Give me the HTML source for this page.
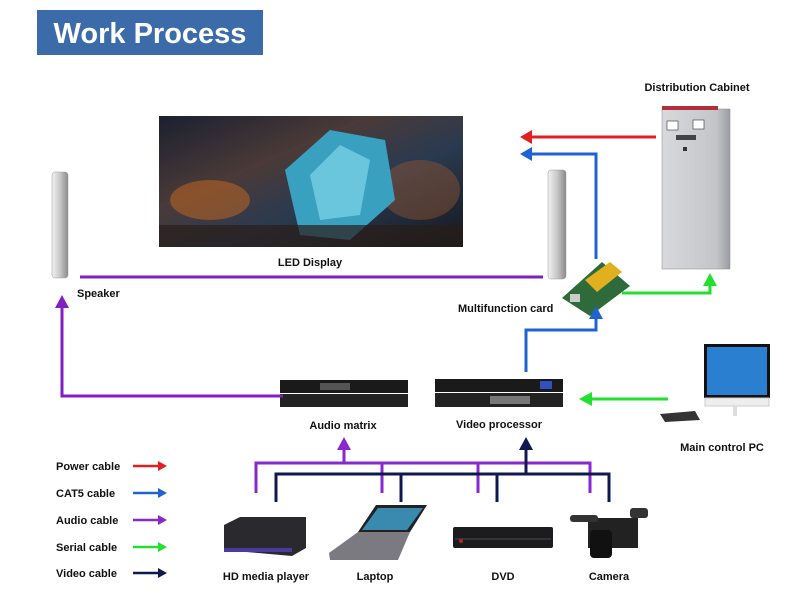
<!DOCTYPE html>
<html><head><meta charset="utf-8"><style>
html,body{margin:0;padding:0;background:#fff;}
svg text{font-family:"Liberation Sans",sans-serif;font-weight:bold;fill:#111;}
</style></head><body>
<svg width="790" height="599" viewBox="0 0 790 599" xmlns="http://www.w3.org/2000/svg">
<defs>
<linearGradient id="led" x1="0" y1="0" x2="1" y2="1">
<stop offset="0" stop-color="#1b2030"/><stop offset="0.35" stop-color="#4a3a38"/><stop offset="0.6" stop-color="#2a3a50"/><stop offset="1" stop-color="#151820"/></linearGradient>
<linearGradient id="spk" x1="0" x2="1"><stop offset="0" stop-color="#f2f2f2"/><stop offset="0.5" stop-color="#c8c8c8"/><stop offset="1" stop-color="#8a8a8a"/></linearGradient>
<linearGradient id="cab" x1="0" x2="1"><stop offset="0" stop-color="#d8d9dc"/><stop offset="0.8" stop-color="#c4c5c9"/><stop offset="1" stop-color="#9a9ca2"/></linearGradient>
</defs>
<rect x="37" y="10" width="226" height="45" fill="#3b6ba9"/>
<text x="150" y="43" text-anchor="middle" font-size="29" style="fill:#fff">Work Process</text>

<rect x="159" y="116" width="304" height="131" fill="url(#led)"/>
<ellipse cx="210" cy="200" rx="40" ry="20" fill="#c86a20" opacity="0.5"/>
<ellipse cx="420" cy="190" rx="40" ry="30" fill="#a05a30" opacity="0.4"/>
<polygon points="285,170 330,130 385,140 395,200 350,240 300,235" fill="#3aa0c0"/>
<polygon points="310,175 340,145 370,160 360,215 320,220" fill="#7fd6e8" opacity="0.7"/>
<rect x="159" y="225" width="304" height="22" fill="#2a1d18" opacity="0.7"/>
<text x="310" y="266" text-anchor="middle" font-size="11">LED Display</text>

<rect x="52" y="172" width="16" height="106" rx="3" fill="url(#spk)" stroke="#999" stroke-width="0.5"/>
<text x="77" y="297" font-size="11">Speaker</text>
<rect x="548" y="170" width="18" height="109" rx="3" fill="url(#spk)" stroke="#999" stroke-width="0.5"/>

<text x="697" y="91" text-anchor="middle" font-size="11">Distribution Cabinet</text>
<rect x="662" y="109" width="68" height="160" fill="url(#cab)" stroke="#888" stroke-width="0.5"/>
<rect x="662" y="106" width="56" height="4" fill="#b0303a"/>
<rect x="667" y="121" width="11" height="9" fill="#fff" stroke="#333" stroke-width="0.6"/>
<rect x="693" y="120" width="11" height="9" fill="#fff" stroke="#333" stroke-width="0.6"/>
<rect x="676" y="135" width="20" height="5" fill="#444"/>
<rect x="683" y="147" width="4" height="4" fill="#333"/>

<polygon points="562,298 602,262 630,286 590,316" fill="#2f6a3a"/>
<polygon points="585,280 610,262 622,272 597,292" fill="#e0b020"/>
<rect x="570" y="294" width="10" height="8" fill="#ccc"/>
<text x="458" y="312" font-size="11">Multifunction card</text>

<rect x="280" y="380" width="128" height="13" fill="#1a1a1a"/>
<rect x="280" y="394" width="128" height="13" fill="#222"/>
<rect x="320" y="383" width="30" height="7" fill="#555"/>
<text x="343" y="429" text-anchor="middle" font-size="11">Audio matrix</text>
<rect x="435" y="379" width="128" height="13" fill="#1a1a1a"/>
<rect x="435" y="393" width="128" height="14" fill="#222"/>
<rect x="540" y="381" width="12" height="8" fill="#3050c0"/>
<rect x="490" y="396" width="40" height="8" fill="#777"/>
<text x="499" y="428" text-anchor="middle" font-size="11">Video processor</text>

<rect x="704" y="344" width="66" height="54" fill="#111"/>
<rect x="707" y="347" width="60" height="48" fill="#2a7fd0"/>
<rect x="705" y="398" width="64" height="8" fill="#eee" stroke="#ccc"/>
<rect x="733" y="406" width="4" height="10" fill="#ddd"/>
<polygon points="660,414 695,411 700,420 665,422" fill="#333"/>
<text x="722" y="451" text-anchor="middle" font-size="11">Main control PC</text>

<g fill="none" stroke-width="3">
<path d="M656,137 H530" stroke="#e02020"/>
<path d="M596,259 V154 H530" stroke="#1e64d0"/>
<path d="M622,293 H710 V285" stroke="#22e030"/>
<path d="M526,372 V330 H596 V318" stroke="#1e64d0"/>
<path d="M80,277 H543" stroke="#8020c0"/>
<path d="M283,396 H62 V306" stroke="#8020c0"/>
<path d="M668,399 H590" stroke="#22e030"/>
<path d="M256,493 V463 H590 V493 M382,463 V493 M478,463 V493 M344,463 V448" stroke="#8a28d0"/>
<path d="M276,502 V474 H609 V502 M401,474 V502 M497,474 V502 M526,474 V448" stroke="#101850"/>
</g>
<polygon points="520,137 532,130 532,144" fill="#e02020"/>
<polygon points="520,154 532,147 532,161" fill="#1e64d0"/>
<polygon points="710,273 703,286 717,286" fill="#22e030"/>
<polygon points="596,306 589,319 603,319" fill="#1e64d0"/>
<polygon points="62,295 55,308 69,308" fill="#8020c0"/>
<polygon points="579,399 592,392 592,406" fill="#22e030"/>
<polygon points="344,437 337,450 351,450" fill="#8a28d0"/>
<polygon points="526,437 519,450 533,450" fill="#101850"/>

<g font-size="11">
<text x="56" y="470">Power cable</text>
<text x="56" y="497">CAT5 cable</text>
<text x="56" y="524">Audio cable</text>
<text x="56" y="551">Serial cable</text>
<text x="56" y="577">Video cable</text>
</g>
<g stroke-width="2.5">
<line x1="133" y1="466" x2="160" y2="466" stroke="#e02020"/>
<line x1="133" y1="493" x2="160" y2="493" stroke="#1e64d0"/>
<line x1="133" y1="520" x2="160" y2="520" stroke="#8a28d0"/>
<line x1="133" y1="547" x2="160" y2="547" stroke="#22e030"/>
<line x1="133" y1="573" x2="160" y2="573" stroke="#101850"/>
</g>
<polygon points="167,466 158,461 158,471" fill="#e02020"/>
<polygon points="167,493 158,488 158,498" fill="#1e64d0"/>
<polygon points="167,520 158,515 158,525" fill="#8a28d0"/>
<polygon points="167,547 158,542 158,552" fill="#22e030"/>
<polygon points="167,573 158,568 158,578" fill="#101850"/>

<polygon points="224,525 240,517 306,517 306,548 292,556 224,550" fill="#2a2a2e"/>
<rect x="224" y="548" width="68" height="4" fill="#4a3aa0"/>
<polygon points="358,532 376,505 427,505 410,532" fill="#222"/>
<polygon points="362,530 378,508 423,508 407,530" fill="#3a8ab0"/>
<polygon points="329,553 358,532 410,532 398,560 330,560" fill="#7a7a80"/>
<rect x="453" y="527" width="100" height="21" rx="2" fill="#1c1c1e"/>
<rect x="455" y="538" width="96" height="2" fill="#333"/>
<circle cx="461" cy="541" r="2" fill="#c02020"/>
<rect x="588" y="518" width="50" height="30" fill="#222"/>
<rect x="590" y="530" width="22" height="28" rx="4" fill="#111"/>
<rect x="570" y="515" width="28" height="7" rx="3" fill="#333"/>
<rect x="630" y="508" width="18" height="10" rx="3" fill="#333"/>
<text x="266" y="580" text-anchor="middle" font-size="11">HD media player</text>
<text x="375" y="580" text-anchor="middle" font-size="11">Laptop</text>
<text x="503" y="580" text-anchor="middle" font-size="11">DVD</text>
<text x="609" y="580" text-anchor="middle" font-size="11">Camera</text>
</svg>
</body></html>
